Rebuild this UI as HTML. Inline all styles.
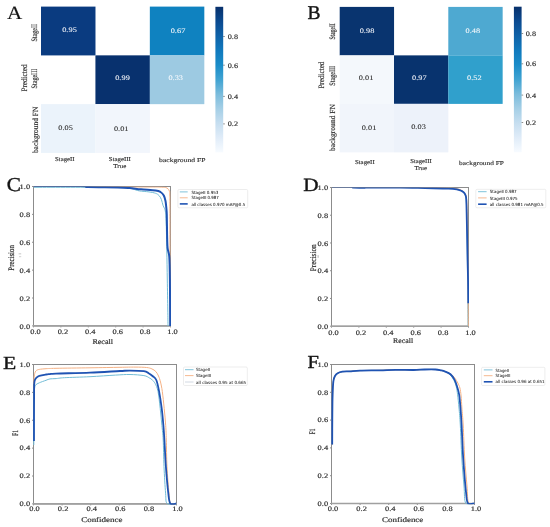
<!DOCTYPE html>
<html><head><meta charset="utf-8"><title>Figure</title>
<style>html,body{margin:0;padding:0;background:#fff;} svg{display:block;} text{text-rendering:geometricPrecision;}</style></head>
<body>
<svg width="550" height="527" viewBox="0 0 550 527">
<rect width="550" height="527" fill="#ffffff"/>
<rect x="41.00" y="6.60" width="54.48" height="48.81" fill="#0a3b80"/>
<rect x="149.84" y="6.60" width="54.48" height="48.81" fill="#0f82c0"/>
<rect x="95.42" y="55.35" width="54.48" height="48.81" fill="#08316e"/>
<rect x="149.84" y="55.35" width="54.48" height="48.81" fill="#9dcae2"/>
<rect x="41.00" y="104.10" width="54.48" height="48.81" fill="#ebf3fb"/>
<rect x="95.42" y="104.10" width="54.48" height="48.81" fill="#f2f6fc"/>
<text transform="matrix(0.08343 0.00000 0.00000 0.06970 62.20 32.20)" font-family='"Liberation Serif", serif' font-size="100" fill="#e8ecf4" stroke="#e8ecf4" stroke-width="1.57" stroke-linejoin="round">0.95</text>
<text transform="matrix(0.08343 0.00000 0.00000 0.06970 170.70 33.40)" font-family='"Liberation Serif", serif' font-size="100" fill="#eef4fa" stroke="#eef4fa" stroke-width="1.57" stroke-linejoin="round">0.67</text>
<text transform="matrix(0.08343 0.00000 0.00000 0.06970 115.20 80.10)" font-family='"Liberation Serif", serif' font-size="100" fill="#e8ecf4" stroke="#e8ecf4" stroke-width="1.57" stroke-linejoin="round">0.99</text>
<text transform="matrix(0.08343 0.00000 0.00000 0.06970 168.40 80.10)" font-family='"Liberation Serif", serif' font-size="100" fill="#f4f8fc" stroke="#f4f8fc" stroke-width="1.57" stroke-linejoin="round">0.33</text>
<text transform="matrix(0.08343 0.00000 0.00000 0.06970 58.30 130.10)" font-family='"Liberation Serif", serif' font-size="100" fill="#333333" stroke="#333333" stroke-width="1.57" stroke-linejoin="round">0.05</text>
<text transform="matrix(0.08343 0.00000 0.00000 0.06970 113.90 130.90)" font-family='"Liberation Serif", serif' font-size="100" fill="#333333" stroke="#333333" stroke-width="1.57" stroke-linejoin="round">0.01</text>
<text transform="matrix(0.21111 0.00000 0.00000 0.18788 6.90 19.20)" font-family='"Liberation Serif", serif' font-size="100" fill="#141414" stroke="#141414" stroke-width="0.75" stroke-linejoin="round">A</text>
<defs><linearGradient id="gA" x1="0" y1="0" x2="0" y2="1"><stop offset="0.000" stop-color="#08306b"/><stop offset="0.100" stop-color="#0b4a90"/><stop offset="0.200" stop-color="#0f62a8"/><stop offset="0.300" stop-color="#1079bd"/><stop offset="0.400" stop-color="#1a8cc8"/><stop offset="0.500" stop-color="#40a3d2"/><stop offset="0.600" stop-color="#7bbcdc"/><stop offset="0.700" stop-color="#a5cfe6"/><stop offset="0.800" stop-color="#c6def0"/><stop offset="0.900" stop-color="#e0ecf8"/><stop offset="1.000" stop-color="#f7fbff"/></linearGradient></defs>
<rect x="215.4" y="6.8" width="7.80" height="145.60" fill="url(#gA)"/>
<line x1="223.2" y1="36.5" x2="224.79999999999998" y2="36.5" stroke="#444" stroke-width="0.6"/>
<text transform="matrix(0.08240 0.00000 0.00000 0.06818 227.70 38.95)" font-family='"Liberation Serif", serif' font-size="100" fill="#2e2e2e" stroke="#2e2e2e" stroke-width="2.40" stroke-linejoin="round">0.8</text>
<line x1="223.2" y1="65.2" x2="224.79999999999998" y2="65.2" stroke="#444" stroke-width="0.6"/>
<text transform="matrix(0.08240 0.00000 0.00000 0.06818 227.70 67.65)" font-family='"Liberation Serif", serif' font-size="100" fill="#2e2e2e" stroke="#2e2e2e" stroke-width="2.40" stroke-linejoin="round">0.6</text>
<line x1="223.2" y1="96.4" x2="224.79999999999998" y2="96.4" stroke="#444" stroke-width="0.6"/>
<text transform="matrix(0.08240 0.00000 0.00000 0.06818 227.70 98.85)" font-family='"Liberation Serif", serif' font-size="100" fill="#2e2e2e" stroke="#2e2e2e" stroke-width="2.40" stroke-linejoin="round">0.4</text>
<line x1="223.2" y1="123.9" x2="224.79999999999998" y2="123.9" stroke="#444" stroke-width="0.6"/>
<text transform="matrix(0.08240 0.00000 0.00000 0.06818 227.70 126.35)" font-family='"Liberation Serif", serif' font-size="100" fill="#2e2e2e" stroke="#2e2e2e" stroke-width="2.40" stroke-linejoin="round">0.2</text>
<text transform="matrix(0.00000 -0.06090 0.08182 0.00000 37.20 41.60)" font-family='"Liberation Serif", serif' font-size="100" fill="#2e2e2e" stroke="#2e2e2e" stroke-width="2.12" stroke-linejoin="round">StageII</text>
<text transform="matrix(0.00000 -0.07143 0.08333 0.00000 26.80 91.50)" font-family='"Liberation Serif", serif' font-size="100" fill="#2e2e2e" stroke="#2e2e2e" stroke-width="1.94" stroke-linejoin="round">Predicted</text>
<text transform="matrix(0.00000 -0.06087 0.08182 0.00000 37.40 88.40)" font-family='"Liberation Serif", serif' font-size="100" fill="#2e2e2e" stroke="#2e2e2e" stroke-width="2.13" stroke-linejoin="round">StageIII</text>
<text transform="matrix(0.00000 -0.07424 0.07879 0.00000 37.50 153.10)" font-family='"Liberation Serif", serif' font-size="100" fill="#2e2e2e" stroke="#2e2e2e" stroke-width="1.96" stroke-linejoin="round">background FN</text>
<text transform="matrix(0.06782 0.00000 0.00000 0.05909 55.00 161.25)" font-family='"Liberation Serif", serif' font-size="100" fill="#2e2e2e" stroke="#2e2e2e" stroke-width="2.37" stroke-linejoin="round">StageII</text>
<text transform="matrix(0.06801 0.00000 0.00000 0.05909 108.85 160.75)" font-family='"Liberation Serif", serif' font-size="100" fill="#2e2e2e" stroke="#2e2e2e" stroke-width="2.37" stroke-linejoin="round">StageIII</text>
<text transform="matrix(0.06973 0.00000 0.00000 0.05909 113.35 167.85)" font-family='"Liberation Serif", serif' font-size="100" fill="#2e2e2e" stroke="#2e2e2e" stroke-width="2.34" stroke-linejoin="round">True</text>
<text transform="matrix(0.07632 0.00000 0.00000 0.05909 159.10 162.15)" font-family='"Liberation Serif", serif' font-size="100" fill="#2e2e2e" stroke="#2e2e2e" stroke-width="2.23" stroke-linejoin="round">background FP</text>
<rect x="339.70" y="6.90" width="54.36" height="48.53" fill="#09346f"/>
<rect x="448.30" y="6.90" width="54.36" height="48.53" fill="#4ea9d1"/>
<rect x="339.70" y="55.37" width="54.36" height="48.53" fill="#f4f8fc"/>
<rect x="394.00" y="55.37" width="54.36" height="48.53" fill="#08336e"/>
<rect x="448.30" y="55.37" width="54.36" height="48.53" fill="#30a0cc"/>
<rect x="339.70" y="103.84" width="54.36" height="48.53" fill="#f1f5fb"/>
<rect x="394.00" y="103.84" width="54.36" height="48.53" fill="#edf2fa"/>
<text transform="matrix(0.08343 0.00000 0.00000 0.06970 359.70 32.70)" font-family='"Liberation Serif", serif' font-size="100" fill="#e8ecf4" stroke="#e8ecf4" stroke-width="1.57" stroke-linejoin="round">0.98</text>
<text transform="matrix(0.08343 0.00000 0.00000 0.06970 465.50 33.00)" font-family='"Liberation Serif", serif' font-size="100" fill="#f0f6fa" stroke="#f0f6fa" stroke-width="1.57" stroke-linejoin="round">0.48</text>
<text transform="matrix(0.08343 0.00000 0.00000 0.06970 358.70 80.40)" font-family='"Liberation Serif", serif' font-size="100" fill="#333333" stroke="#333333" stroke-width="1.57" stroke-linejoin="round">0.01</text>
<text transform="matrix(0.08343 0.00000 0.00000 0.06970 412.00 80.40)" font-family='"Liberation Serif", serif' font-size="100" fill="#e8ecf4" stroke="#e8ecf4" stroke-width="1.57" stroke-linejoin="round">0.97</text>
<text transform="matrix(0.08343 0.00000 0.00000 0.06970 467.10 80.00)" font-family='"Liberation Serif", serif' font-size="100" fill="#f0f6fa" stroke="#f0f6fa" stroke-width="1.57" stroke-linejoin="round">0.52</text>
<text transform="matrix(0.08343 0.00000 0.00000 0.06970 361.70 129.50)" font-family='"Liberation Serif", serif' font-size="100" fill="#333333" stroke="#333333" stroke-width="1.57" stroke-linejoin="round">0.01</text>
<text transform="matrix(0.08343 0.00000 0.00000 0.06970 411.20 128.60)" font-family='"Liberation Serif", serif' font-size="100" fill="#333333" stroke="#333333" stroke-width="1.57" stroke-linejoin="round">0.03</text>
<text transform="matrix(0.19552 0.00000 0.00000 0.19394 307.50 19.30)" font-family='"Liberation Serif", serif' font-size="100" fill="#141414" stroke="#141414" stroke-width="2.05" stroke-linejoin="round">B</text>
<defs><linearGradient id="gB" x1="0" y1="0" x2="0" y2="1"><stop offset="0.000" stop-color="#08306b"/><stop offset="0.100" stop-color="#0b4a90"/><stop offset="0.200" stop-color="#0f62a8"/><stop offset="0.300" stop-color="#1079bd"/><stop offset="0.400" stop-color="#1a8cc8"/><stop offset="0.500" stop-color="#40a3d2"/><stop offset="0.600" stop-color="#7bbcdc"/><stop offset="0.700" stop-color="#a5cfe6"/><stop offset="0.800" stop-color="#c6def0"/><stop offset="0.900" stop-color="#e0ecf8"/><stop offset="1.000" stop-color="#f7fbff"/></linearGradient></defs>
<rect x="513.9" y="6.7" width="7.70" height="145.50" fill="url(#gB)"/>
<line x1="521.6" y1="33.5" x2="523.2" y2="33.5" stroke="#444" stroke-width="0.6"/>
<text transform="matrix(0.08240 0.00000 0.00000 0.06818 525.70 35.95)" font-family='"Liberation Serif", serif' font-size="100" fill="#2e2e2e" stroke="#2e2e2e" stroke-width="2.40" stroke-linejoin="round">0.8</text>
<line x1="521.6" y1="63.8" x2="523.2" y2="63.8" stroke="#444" stroke-width="0.6"/>
<text transform="matrix(0.08240 0.00000 0.00000 0.06818 525.70 66.25)" font-family='"Liberation Serif", serif' font-size="100" fill="#2e2e2e" stroke="#2e2e2e" stroke-width="2.40" stroke-linejoin="round">0.6</text>
<line x1="521.6" y1="95.1" x2="523.2" y2="95.1" stroke="#444" stroke-width="0.6"/>
<text transform="matrix(0.08240 0.00000 0.00000 0.06818 525.70 97.55)" font-family='"Liberation Serif", serif' font-size="100" fill="#2e2e2e" stroke="#2e2e2e" stroke-width="2.40" stroke-linejoin="round">0.4</text>
<line x1="521.6" y1="122.5" x2="523.2" y2="122.5" stroke="#444" stroke-width="0.6"/>
<text transform="matrix(0.08240 0.00000 0.00000 0.06818 525.70 124.95)" font-family='"Liberation Serif", serif' font-size="100" fill="#2e2e2e" stroke="#2e2e2e" stroke-width="2.40" stroke-linejoin="round">0.2</text>
<text transform="matrix(0.00000 -0.05606 0.08182 0.00000 334.80 39.50)" font-family='"Liberation Serif", serif' font-size="100" fill="#2e2e2e" stroke="#2e2e2e" stroke-width="2.21" stroke-linejoin="round">StageII</text>
<text transform="matrix(0.00000 -0.07143 0.08182 0.00000 323.70 88.60)" font-family='"Liberation Serif", serif' font-size="100" fill="#2e2e2e" stroke="#2e2e2e" stroke-width="1.96" stroke-linejoin="round">Predicted</text>
<text transform="matrix(0.00000 -0.06149 0.08182 0.00000 334.80 85.70)" font-family='"Liberation Serif", serif' font-size="100" fill="#2e2e2e" stroke="#2e2e2e" stroke-width="2.11" stroke-linejoin="round">StageIII</text>
<text transform="matrix(0.00000 -0.07520 0.07727 0.00000 334.60 151.10)" font-family='"Liberation Serif", serif' font-size="100" fill="#2e2e2e" stroke="#2e2e2e" stroke-width="1.97" stroke-linejoin="round">background FN</text>
<text transform="matrix(0.06851 0.00000 0.00000 0.05909 354.90 164.05)" font-family='"Liberation Serif", serif' font-size="100" fill="#2e2e2e" stroke="#2e2e2e" stroke-width="2.36" stroke-linejoin="round">StageII</text>
<text transform="matrix(0.06646 0.00000 0.00000 0.05909 410.30 162.75)" font-family='"Liberation Serif", serif' font-size="100" fill="#2e2e2e" stroke="#2e2e2e" stroke-width="2.39" stroke-linejoin="round">StageIII</text>
<text transform="matrix(0.06811 0.00000 0.00000 0.05909 414.40 169.55)" font-family='"Liberation Serif", serif' font-size="100" fill="#2e2e2e" stroke="#2e2e2e" stroke-width="2.36" stroke-linejoin="round">True</text>
<text transform="matrix(0.07368 0.00000 0.00000 0.05909 459.10 165.15)" font-family='"Liberation Serif", serif' font-size="100" fill="#2e2e2e" stroke="#2e2e2e" stroke-width="2.27" stroke-linejoin="round">background FP</text>
<defs><clipPath id="c1"><rect x="33.0" y="186.0" width="138.00" height="140.70"/></clipPath></defs>
<line x1="33.50" y1="325.9" x2="33.50" y2="327.4" stroke="#444" stroke-width="0.6"/>
<line x1="32.0" y1="325.90" x2="33.5" y2="325.90" stroke="#444" stroke-width="0.6"/>
<text transform="matrix(0.08400 0.00000 0.00000 0.06818 30.25 334.35)" font-family='"Liberation Serif", serif' font-size="100" fill="#2e2e2e" stroke="#2e2e2e" stroke-width="2.64" stroke-linejoin="round">0.0</text>
<text transform="matrix(0.08400 0.00000 0.00000 0.06818 19.60 328.65)" font-family='"Liberation Serif", serif' font-size="100" fill="#2e2e2e" stroke="#2e2e2e" stroke-width="2.64" stroke-linejoin="round">0.0</text>
<line x1="60.90" y1="325.9" x2="60.90" y2="327.4" stroke="#444" stroke-width="0.6"/>
<line x1="32.0" y1="298.02" x2="33.5" y2="298.02" stroke="#444" stroke-width="0.6"/>
<text transform="matrix(0.08400 0.00000 0.00000 0.06818 57.65 334.35)" font-family='"Liberation Serif", serif' font-size="100" fill="#2e2e2e" stroke="#2e2e2e" stroke-width="2.64" stroke-linejoin="round">0.2</text>
<text transform="matrix(0.08400 0.00000 0.00000 0.06818 19.60 300.77)" font-family='"Liberation Serif", serif' font-size="100" fill="#2e2e2e" stroke="#2e2e2e" stroke-width="2.64" stroke-linejoin="round">0.2</text>
<line x1="88.30" y1="325.9" x2="88.30" y2="327.4" stroke="#444" stroke-width="0.6"/>
<line x1="32.0" y1="270.14" x2="33.5" y2="270.14" stroke="#444" stroke-width="0.6"/>
<text transform="matrix(0.08400 0.00000 0.00000 0.06818 85.05 334.35)" font-family='"Liberation Serif", serif' font-size="100" fill="#2e2e2e" stroke="#2e2e2e" stroke-width="2.64" stroke-linejoin="round">0.4</text>
<text transform="matrix(0.08400 0.00000 0.00000 0.06818 19.60 272.89)" font-family='"Liberation Serif", serif' font-size="100" fill="#2e2e2e" stroke="#2e2e2e" stroke-width="2.64" stroke-linejoin="round">0.4</text>
<line x1="115.70" y1="325.9" x2="115.70" y2="327.4" stroke="#444" stroke-width="0.6"/>
<line x1="32.0" y1="242.26" x2="33.5" y2="242.26" stroke="#444" stroke-width="0.6"/>
<text transform="matrix(0.08400 0.00000 0.00000 0.06818 112.45 334.35)" font-family='"Liberation Serif", serif' font-size="100" fill="#2e2e2e" stroke="#2e2e2e" stroke-width="2.64" stroke-linejoin="round">0.6</text>
<text transform="matrix(0.08400 0.00000 0.00000 0.06818 19.60 245.01)" font-family='"Liberation Serif", serif' font-size="100" fill="#2e2e2e" stroke="#2e2e2e" stroke-width="2.64" stroke-linejoin="round">0.6</text>
<line x1="143.10" y1="325.9" x2="143.10" y2="327.4" stroke="#444" stroke-width="0.6"/>
<line x1="32.0" y1="214.38" x2="33.5" y2="214.38" stroke="#444" stroke-width="0.6"/>
<text transform="matrix(0.08400 0.00000 0.00000 0.06818 139.85 334.35)" font-family='"Liberation Serif", serif' font-size="100" fill="#2e2e2e" stroke="#2e2e2e" stroke-width="2.64" stroke-linejoin="round">0.8</text>
<text transform="matrix(0.08400 0.00000 0.00000 0.06818 19.60 217.13)" font-family='"Liberation Serif", serif' font-size="100" fill="#2e2e2e" stroke="#2e2e2e" stroke-width="2.64" stroke-linejoin="round">0.8</text>
<line x1="170.50" y1="325.9" x2="170.50" y2="327.4" stroke="#444" stroke-width="0.6"/>
<line x1="32.0" y1="186.50" x2="33.5" y2="186.50" stroke="#444" stroke-width="0.6"/>
<text transform="matrix(0.08400 0.00000 0.00000 0.06818 167.25 334.35)" font-family='"Liberation Serif", serif' font-size="100" fill="#2e2e2e" stroke="#2e2e2e" stroke-width="2.64" stroke-linejoin="round">1.0</text>
<text transform="matrix(0.08400 0.00000 0.00000 0.06818 19.60 189.25)" font-family='"Liberation Serif", serif' font-size="100" fill="#2e2e2e" stroke="#2e2e2e" stroke-width="2.64" stroke-linejoin="round">1.0</text>
<text transform="matrix(0.08078 0.00000 0.00000 0.07273 92.40 343.80)" font-family='"Liberation Serif", serif' font-size="100" fill="#2e2e2e" stroke="#2e2e2e" stroke-width="2.35" stroke-linejoin="round">Recall</text>
<text transform="matrix(0.00000 -0.06882 0.08485 0.00000 14.00 270.70)" font-family='"Liberation Serif", serif' font-size="100" fill="#2e2e2e" stroke="#2e2e2e" stroke-width="2.36" stroke-linejoin="round">Precision</text>
<text transform="matrix(0.21194 0.00000 0.00000 0.19697 6.80 190.70)" font-family='"Liberation Serif", serif' font-size="100" fill="#141414" stroke="#141414" stroke-width="1.96" stroke-linejoin="round">C</text>
<rect x="33.5" y="186.5" width="137.00" height="139.40" fill="none" stroke="#8c8c8c" stroke-width="1"/>
<line x1="33.0" y1="325.9" x2="171.0" y2="325.9" stroke="#a0a0a0" stroke-width="1.6"/>
<path d="M33.60 187.30 C44.67 187.30 85.27 187.27 100.00 187.30 C114.73 187.33 117.33 187.40 122.00 187.50 C126.67 187.60 126.17 187.63 128.00 187.90 C129.83 188.17 131.12 188.60 133.00 189.10 C134.88 189.60 136.63 190.43 139.30 190.90 C141.97 191.37 146.28 191.50 149.00 191.90 C151.72 192.30 153.93 192.70 155.60 193.30 C157.27 193.90 158.03 194.47 159.00 195.50 C159.97 196.53 160.73 197.87 161.40 199.50 C162.07 201.13 162.47 203.77 163.00 205.30 C163.53 206.83 164.18 207.48 164.60 208.70 C165.02 209.92 165.23 210.05 165.50 212.60 C165.77 215.15 165.98 217.77 166.20 224.00 C166.42 230.23 166.62 240.67 166.80 250.00 C166.98 259.33 167.13 270.00 167.30 280.00 C167.47 290.00 167.68 302.33 167.80 310.00 C167.92 317.67 167.97 323.33 168.00 326.00" fill="none" stroke="#72bcd6" stroke-width="1.0" stroke-linejoin="round" clip-path="url(#c1)"/>
<path d="M33.60 186.50 C41.33 186.50 66.93 186.48 80.00 186.50 C93.07 186.52 105.00 186.53 112.00 186.60 C119.00 186.67 115.67 186.83 122.00 186.90 C128.33 186.97 143.67 186.97 150.00 187.00 C156.33 187.03 157.42 187.02 160.00 187.10 C162.58 187.18 164.17 187.22 165.50 187.50 C166.83 187.78 167.37 188.22 168.00 188.80 C168.63 189.38 169.00 189.97 169.30 191.00 C169.60 192.03 169.70 188.50 169.80 195.00 C169.90 201.50 169.88 208.17 169.90 230.00 C169.92 251.83 169.90 310.00 169.90 326.00" fill="none" stroke="#f5b184" stroke-width="1.0" stroke-linejoin="round" clip-path="url(#c1)"/>
<path d="M33.60 186.00 C41.67 186.00 72.93 185.82 82.00 186.00 C91.07 186.18 82.00 186.87 88.00 187.10 C94.00 187.33 111.08 187.25 118.00 187.40 C124.92 187.55 125.67 187.68 129.50 188.00 C133.33 188.32 136.65 188.88 141.00 189.30 C145.35 189.72 152.35 190.05 155.60 190.50 C158.85 190.95 159.13 191.17 160.50 192.00 C161.87 192.83 162.97 194.00 163.80 195.50 C164.63 197.00 165.08 198.97 165.50 201.00 C165.92 203.03 166.08 205.37 166.30 207.70 C166.52 210.03 166.67 210.45 166.80 215.00 C166.93 219.55 166.97 229.50 167.10 235.00 C167.23 240.50 167.23 244.33 167.60 248.00 C167.97 251.67 168.92 251.67 169.30 257.00 C169.68 262.33 169.75 268.50 169.90 280.00 C170.05 291.50 170.15 318.33 170.20 326.00" fill="none" stroke="#1f53b3" stroke-width="2.0" stroke-linejoin="round" clip-path="url(#c1)"/>
<line x1="33.0" y1="186.5" x2="171.0" y2="186.5" stroke="#8c8c8c" stroke-width="1" stroke-opacity="0.5"/>
<rect x="18.6" y="253.2" width="2.6" height="1.2" fill="#cfcfcf"/><rect x="19.0" y="256.0" width="2.2" height="1.2" fill="#d8d8d8"/>
<rect x="177.9" y="189.5" width="69.80" height="18.30" rx="1.2" fill="#fff" stroke="#e0e0e0" stroke-width="0.6"/>
<line x1="179.8" y1="191.9" x2="187.7" y2="191.9" stroke="#72bcd6" stroke-width="0.9"/>
<text transform="matrix(0.04054 0.00000 0.00000 0.04247 191.40 193.55)" font-family='"DejaVu Sans", sans-serif' font-size="100" fill="#262626" stroke="#262626" stroke-width="1.45" stroke-linejoin="round">StageII 0.953</text>
<line x1="179.8" y1="197.8" x2="187.7" y2="197.8" stroke="#f5b184" stroke-width="0.9"/>
<text transform="matrix(0.03951 0.00000 0.00000 0.04247 191.40 199.45)" font-family='"DejaVu Sans", sans-serif' font-size="100" fill="#262626" stroke="#262626" stroke-width="1.46" stroke-linejoin="round">StageIII 0.987</text>
<line x1="179.8" y1="203.9" x2="187.7" y2="203.9" stroke="#1f53b3" stroke-width="1.6"/>
<text transform="matrix(0.04000 0.00000 0.00000 0.04247 191.40 205.55)" font-family='"DejaVu Sans", sans-serif' font-size="100" fill="#262626" stroke="#262626" stroke-width="1.46" stroke-linejoin="round">all classes 0.970 mAP@0.5</text>
<defs><clipPath id="c2"><rect x="331.0" y="187.0" width="138.00" height="140.00"/></clipPath></defs>
<line x1="331.50" y1="326.2" x2="331.50" y2="327.7" stroke="#444" stroke-width="0.6"/>
<line x1="330.0" y1="326.20" x2="331.5" y2="326.20" stroke="#444" stroke-width="0.6"/>
<text transform="matrix(0.08400 0.00000 0.00000 0.06818 328.25 334.65)" font-family='"Liberation Serif", serif' font-size="100" fill="#2e2e2e" stroke="#2e2e2e" stroke-width="2.64" stroke-linejoin="round">0.0</text>
<text transform="matrix(0.08400 0.00000 0.00000 0.06818 317.60 328.95)" font-family='"Liberation Serif", serif' font-size="100" fill="#2e2e2e" stroke="#2e2e2e" stroke-width="2.64" stroke-linejoin="round">0.0</text>
<line x1="358.90" y1="326.2" x2="358.90" y2="327.7" stroke="#444" stroke-width="0.6"/>
<line x1="330.0" y1="298.46" x2="331.5" y2="298.46" stroke="#444" stroke-width="0.6"/>
<text transform="matrix(0.08400 0.00000 0.00000 0.06818 355.65 334.65)" font-family='"Liberation Serif", serif' font-size="100" fill="#2e2e2e" stroke="#2e2e2e" stroke-width="2.64" stroke-linejoin="round">0.2</text>
<text transform="matrix(0.08400 0.00000 0.00000 0.06818 317.60 301.21)" font-family='"Liberation Serif", serif' font-size="100" fill="#2e2e2e" stroke="#2e2e2e" stroke-width="2.64" stroke-linejoin="round">0.2</text>
<line x1="386.30" y1="326.2" x2="386.30" y2="327.7" stroke="#444" stroke-width="0.6"/>
<line x1="330.0" y1="270.72" x2="331.5" y2="270.72" stroke="#444" stroke-width="0.6"/>
<text transform="matrix(0.08400 0.00000 0.00000 0.06818 383.05 334.65)" font-family='"Liberation Serif", serif' font-size="100" fill="#2e2e2e" stroke="#2e2e2e" stroke-width="2.64" stroke-linejoin="round">0.4</text>
<text transform="matrix(0.08400 0.00000 0.00000 0.06818 317.60 273.47)" font-family='"Liberation Serif", serif' font-size="100" fill="#2e2e2e" stroke="#2e2e2e" stroke-width="2.64" stroke-linejoin="round">0.4</text>
<line x1="413.70" y1="326.2" x2="413.70" y2="327.7" stroke="#444" stroke-width="0.6"/>
<line x1="330.0" y1="242.98" x2="331.5" y2="242.98" stroke="#444" stroke-width="0.6"/>
<text transform="matrix(0.08400 0.00000 0.00000 0.06818 410.45 334.65)" font-family='"Liberation Serif", serif' font-size="100" fill="#2e2e2e" stroke="#2e2e2e" stroke-width="2.64" stroke-linejoin="round">0.6</text>
<text transform="matrix(0.08400 0.00000 0.00000 0.06818 317.60 245.73)" font-family='"Liberation Serif", serif' font-size="100" fill="#2e2e2e" stroke="#2e2e2e" stroke-width="2.64" stroke-linejoin="round">0.6</text>
<line x1="441.10" y1="326.2" x2="441.10" y2="327.7" stroke="#444" stroke-width="0.6"/>
<line x1="330.0" y1="215.24" x2="331.5" y2="215.24" stroke="#444" stroke-width="0.6"/>
<text transform="matrix(0.08400 0.00000 0.00000 0.06818 437.85 334.65)" font-family='"Liberation Serif", serif' font-size="100" fill="#2e2e2e" stroke="#2e2e2e" stroke-width="2.64" stroke-linejoin="round">0.8</text>
<text transform="matrix(0.08400 0.00000 0.00000 0.06818 317.60 217.99)" font-family='"Liberation Serif", serif' font-size="100" fill="#2e2e2e" stroke="#2e2e2e" stroke-width="2.64" stroke-linejoin="round">0.8</text>
<line x1="468.50" y1="326.2" x2="468.50" y2="327.7" stroke="#444" stroke-width="0.6"/>
<line x1="330.0" y1="187.50" x2="331.5" y2="187.50" stroke="#444" stroke-width="0.6"/>
<text transform="matrix(0.08400 0.00000 0.00000 0.06818 465.25 334.65)" font-family='"Liberation Serif", serif' font-size="100" fill="#2e2e2e" stroke="#2e2e2e" stroke-width="2.64" stroke-linejoin="round">1.0</text>
<text transform="matrix(0.08400 0.00000 0.00000 0.06818 317.60 190.25)" font-family='"Liberation Serif", serif' font-size="100" fill="#2e2e2e" stroke="#2e2e2e" stroke-width="2.64" stroke-linejoin="round">1.0</text>
<text transform="matrix(0.07843 0.00000 0.00000 0.07273 393.10 342.70)" font-family='"Liberation Serif", serif' font-size="100" fill="#2e2e2e" stroke="#2e2e2e" stroke-width="2.38" stroke-linejoin="round">Recall</text>
<text transform="matrix(0.00000 -0.07258 0.08485 0.00000 315.80 271.30)" font-family='"Liberation Serif", serif' font-size="100" fill="#2e2e2e" stroke="#2e2e2e" stroke-width="2.29" stroke-linejoin="round">Precision</text>
<text transform="matrix(0.21250 0.00000 0.00000 0.18636 303.20 190.75)" font-family='"Liberation Serif", serif' font-size="100" fill="#141414" stroke="#141414" stroke-width="2.01" stroke-linejoin="round">D</text>
<rect x="331.5" y="187.5" width="137.00" height="138.70" fill="none" stroke="#8c8c8c" stroke-width="1"/>
<line x1="331.0" y1="326.2" x2="469.0" y2="326.2" stroke="#a0a0a0" stroke-width="1.6"/>
<path d="M332.00 187.20 C343.33 187.23 382.00 187.32 400.00 187.40 C418.00 187.48 430.83 187.50 440.00 187.70 C449.17 187.90 451.50 188.18 455.00 188.60 C458.50 189.02 459.45 189.42 461.00 190.20 C462.55 190.98 463.47 192.00 464.30 193.30 C465.13 194.60 465.58 194.38 466.00 198.00 C466.42 201.62 466.57 204.67 466.80 215.00 C467.03 225.33 467.20 241.50 467.40 260.00 C467.60 278.50 467.90 315.00 468.00 326.00" fill="none" stroke="#72bcd6" stroke-width="1.0" stroke-linejoin="round" clip-path="url(#c2)"/>
<path d="M332.00 187.20 C343.33 187.22 382.00 187.23 400.00 187.30 C418.00 187.37 430.83 187.40 440.00 187.60 C449.17 187.80 451.50 188.10 455.00 188.50 C458.50 188.90 459.42 189.25 461.00 190.00 C462.58 190.75 463.60 191.67 464.50 193.00 C465.40 194.33 465.95 194.33 466.40 198.00 C466.85 201.67 466.97 204.67 467.20 215.00 C467.43 225.33 467.62 241.50 467.80 260.00 C467.98 278.50 468.22 315.00 468.30 326.00" fill="none" stroke="#f5b184" stroke-width="1.0" stroke-linejoin="round" clip-path="url(#c2)"/>
<path d="M332.00 186.90 C335.17 186.90 347.42 186.77 351.00 186.90 C354.58 187.03 351.33 187.55 353.50 187.70 C355.67 187.85 361.58 187.83 364.00 187.80 C366.42 187.77 362.00 187.53 368.00 187.50 C374.00 187.47 390.50 187.50 400.00 187.60 C409.50 187.70 416.92 187.93 425.00 188.10 C433.08 188.27 443.07 188.35 448.50 188.60 C453.93 188.85 455.43 189.22 457.60 189.60 C459.77 189.98 460.43 190.38 461.50 190.90 C462.57 191.42 463.32 191.93 464.00 192.70 C464.68 193.47 465.22 194.28 465.60 195.50 C465.98 196.72 466.10 195.92 466.30 200.00 C466.50 204.08 466.58 210.00 466.80 220.00 C467.02 230.00 467.38 249.50 467.60 260.00 C467.82 270.50 467.98 275.78 468.10 283.00 C468.22 290.22 468.27 299.92 468.30 303.30" fill="none" stroke="#1f53b3" stroke-width="1.8" stroke-linejoin="round" clip-path="url(#c2)"/>
<line x1="331.0" y1="187.5" x2="469.0" y2="187.5" stroke="#8c8c8c" stroke-width="1" stroke-opacity="0.5"/>
<rect x="317.4" y="255.2" width="1.6" height="2.6" fill="#d0d0d0"/>
<rect x="475.8" y="189.3" width="70.00" height="18.50" rx="1.2" fill="#fff" stroke="#e0e0e0" stroke-width="0.6"/>
<line x1="478.1" y1="191.7" x2="486.6" y2="191.7" stroke="#72bcd6" stroke-width="0.9"/>
<text transform="matrix(0.04024 0.00000 0.00000 0.04247 489.80 193.35)" font-family='"DejaVu Sans", sans-serif' font-size="100" fill="#262626" stroke="#262626" stroke-width="1.45" stroke-linejoin="round">StageII 0.987</text>
<line x1="478.1" y1="197.9" x2="486.6" y2="197.9" stroke="#f5b184" stroke-width="0.9"/>
<text transform="matrix(0.03994 0.00000 0.00000 0.04247 489.80 199.55)" font-family='"DejaVu Sans", sans-serif' font-size="100" fill="#262626" stroke="#262626" stroke-width="1.46" stroke-linejoin="round">StageIII 0.975</text>
<line x1="478.1" y1="204.2" x2="486.6" y2="204.2" stroke="#1f53b3" stroke-width="1.6"/>
<text transform="matrix(0.04000 0.00000 0.00000 0.04247 489.80 205.85)" font-family='"DejaVu Sans", sans-serif' font-size="100" fill="#262626" stroke="#262626" stroke-width="1.46" stroke-linejoin="round">all classes 0.981 mAP@0.5</text>
<defs><clipPath id="c3"><rect x="33.0" y="364.0" width="144.00" height="140.70"/></clipPath></defs>
<line x1="33.50" y1="503.9" x2="33.50" y2="505.4" stroke="#444" stroke-width="0.6"/>
<line x1="32.0" y1="503.90" x2="33.5" y2="503.90" stroke="#444" stroke-width="0.6"/>
<text transform="matrix(0.08400 0.00000 0.00000 0.06818 29.25 511.45)" font-family='"Liberation Serif", serif' font-size="100" fill="#2e2e2e" stroke="#2e2e2e" stroke-width="2.64" stroke-linejoin="round">0.0</text>
<text transform="matrix(0.08400 0.00000 0.00000 0.06818 19.60 506.25)" font-family='"Liberation Serif", serif' font-size="100" fill="#2e2e2e" stroke="#2e2e2e" stroke-width="2.64" stroke-linejoin="round">0.0</text>
<line x1="62.10" y1="503.9" x2="62.10" y2="505.4" stroke="#444" stroke-width="0.6"/>
<line x1="32.0" y1="476.02" x2="33.5" y2="476.02" stroke="#444" stroke-width="0.6"/>
<text transform="matrix(0.08400 0.00000 0.00000 0.06818 57.85 511.45)" font-family='"Liberation Serif", serif' font-size="100" fill="#2e2e2e" stroke="#2e2e2e" stroke-width="2.64" stroke-linejoin="round">0.2</text>
<text transform="matrix(0.08400 0.00000 0.00000 0.06818 19.60 478.37)" font-family='"Liberation Serif", serif' font-size="100" fill="#2e2e2e" stroke="#2e2e2e" stroke-width="2.64" stroke-linejoin="round">0.2</text>
<line x1="90.70" y1="503.9" x2="90.70" y2="505.4" stroke="#444" stroke-width="0.6"/>
<line x1="32.0" y1="448.14" x2="33.5" y2="448.14" stroke="#444" stroke-width="0.6"/>
<text transform="matrix(0.08400 0.00000 0.00000 0.06818 86.45 511.45)" font-family='"Liberation Serif", serif' font-size="100" fill="#2e2e2e" stroke="#2e2e2e" stroke-width="2.64" stroke-linejoin="round">0.4</text>
<text transform="matrix(0.08400 0.00000 0.00000 0.06818 19.60 450.49)" font-family='"Liberation Serif", serif' font-size="100" fill="#2e2e2e" stroke="#2e2e2e" stroke-width="2.64" stroke-linejoin="round">0.4</text>
<line x1="119.30" y1="503.9" x2="119.30" y2="505.4" stroke="#444" stroke-width="0.6"/>
<line x1="32.0" y1="420.26" x2="33.5" y2="420.26" stroke="#444" stroke-width="0.6"/>
<text transform="matrix(0.08400 0.00000 0.00000 0.06818 115.05 511.45)" font-family='"Liberation Serif", serif' font-size="100" fill="#2e2e2e" stroke="#2e2e2e" stroke-width="2.64" stroke-linejoin="round">0.6</text>
<text transform="matrix(0.08400 0.00000 0.00000 0.06818 19.60 422.61)" font-family='"Liberation Serif", serif' font-size="100" fill="#2e2e2e" stroke="#2e2e2e" stroke-width="2.64" stroke-linejoin="round">0.6</text>
<line x1="147.90" y1="503.9" x2="147.90" y2="505.4" stroke="#444" stroke-width="0.6"/>
<line x1="32.0" y1="392.38" x2="33.5" y2="392.38" stroke="#444" stroke-width="0.6"/>
<text transform="matrix(0.08400 0.00000 0.00000 0.06818 143.65 511.45)" font-family='"Liberation Serif", serif' font-size="100" fill="#2e2e2e" stroke="#2e2e2e" stroke-width="2.64" stroke-linejoin="round">0.8</text>
<text transform="matrix(0.08400 0.00000 0.00000 0.06818 19.60 394.73)" font-family='"Liberation Serif", serif' font-size="100" fill="#2e2e2e" stroke="#2e2e2e" stroke-width="2.64" stroke-linejoin="round">0.8</text>
<line x1="176.50" y1="503.9" x2="176.50" y2="505.4" stroke="#444" stroke-width="0.6"/>
<line x1="32.0" y1="364.50" x2="33.5" y2="364.50" stroke="#444" stroke-width="0.6"/>
<text transform="matrix(0.08400 0.00000 0.00000 0.06818 172.25 511.45)" font-family='"Liberation Serif", serif' font-size="100" fill="#2e2e2e" stroke="#2e2e2e" stroke-width="2.64" stroke-linejoin="round">1.0</text>
<text transform="matrix(0.08400 0.00000 0.00000 0.06818 19.60 366.85)" font-family='"Liberation Serif", serif' font-size="100" fill="#2e2e2e" stroke="#2e2e2e" stroke-width="2.64" stroke-linejoin="round">1.0</text>
<text transform="matrix(0.08937 0.00000 0.00000 0.07121 81.20 521.65)" font-family='"Liberation Serif", serif' font-size="100" fill="#2e2e2e" stroke="#2e2e2e" stroke-width="2.26" stroke-linejoin="round">Confidence</text>
<text transform="matrix(0.00000 -0.05283 0.08485 0.00000 18.00 435.80)" font-family='"Liberation Serif", serif' font-size="100" fill="#2e2e2e" stroke="#2e2e2e" stroke-width="2.69" stroke-linejoin="round">F1</text>
<text transform="matrix(0.21639 0.00000 0.00000 0.18485 3.10 368.60)" font-family='"Liberation Serif", serif' font-size="100" fill="#141414" stroke="#141414" stroke-width="2.00" stroke-linejoin="round">E</text>
<rect x="33.5" y="364.5" width="143.00" height="139.40" fill="none" stroke="#8c8c8c" stroke-width="1"/>
<line x1="33.0" y1="503.9" x2="177.0" y2="503.9" stroke="#a0a0a0" stroke-width="1.6"/>
<path d="M33.80 445.00 C33.82 440.83 33.85 428.33 33.90 420.00 C33.95 411.67 33.98 400.33 34.10 395.00 C34.22 389.67 34.35 389.67 34.60 388.00 C34.85 386.33 34.82 385.87 35.60 385.00 C36.38 384.13 37.57 383.58 39.30 382.80 C41.03 382.02 44.22 380.95 46.00 380.30 C47.78 379.65 48.33 379.18 50.00 378.90 C51.67 378.62 53.58 378.80 56.00 378.60 C58.42 378.40 58.83 378.02 64.50 377.70 C70.17 377.38 81.50 377.13 90.00 376.70 C98.50 376.27 108.83 375.47 115.50 375.10 C122.17 374.73 125.27 374.42 130.00 374.50 C134.73 374.58 140.70 375.05 143.90 375.60 C147.10 376.15 147.80 377.07 149.20 377.80 C150.60 378.53 151.32 379.07 152.30 380.00 C153.28 380.93 154.15 381.50 155.10 383.40 C156.05 385.30 157.15 387.23 158.00 391.40 C158.85 395.57 159.55 402.72 160.20 408.40 C160.85 414.08 161.40 420.23 161.90 425.50 C162.40 430.77 162.85 433.15 163.20 440.00 C163.55 446.85 163.60 457.73 164.00 466.60 C164.40 475.47 165.07 487.03 165.60 493.20 C166.13 499.37 165.42 501.87 167.20 503.60 C168.98 505.33 174.78 503.60 176.30 503.60" fill="none" stroke="#72bcd6" stroke-width="1.0" stroke-linejoin="round" clip-path="url(#c3)"/>
<path d="M33.80 384.00 C33.88 382.67 34.07 377.97 34.30 376.00 C34.53 374.03 34.83 373.13 35.20 372.20 C35.57 371.27 35.82 370.87 36.50 370.40 C37.18 369.93 37.72 369.68 39.30 369.40 C40.88 369.12 43.22 368.88 46.00 368.70 C48.78 368.52 48.67 368.45 56.00 368.30 C63.33 368.15 79.33 367.97 90.00 367.80 C100.67 367.63 112.50 367.42 120.00 367.30 C127.50 367.18 130.57 367.07 135.00 367.10 C139.43 367.13 143.78 367.20 146.60 367.50 C149.42 367.80 150.35 368.22 151.90 368.90 C153.45 369.58 154.80 370.42 155.90 371.60 C157.00 372.78 157.73 374.27 158.50 376.00 C159.27 377.73 159.87 379.43 160.50 382.00 C161.13 384.57 161.68 387.00 162.30 391.40 C162.92 395.80 163.63 402.72 164.20 408.40 C164.77 414.08 165.35 420.23 165.70 425.50 C166.05 430.77 166.08 433.15 166.30 440.00 C166.52 446.85 166.55 457.73 167.00 466.60 C167.45 475.47 168.38 487.03 169.00 493.20 C169.62 499.37 169.48 501.87 170.70 503.60 C171.92 505.33 175.37 503.60 176.30 503.60" fill="none" stroke="#f5b184" stroke-width="1.0" stroke-linejoin="round" clip-path="url(#c3)"/>
<path d="M34.00 441.00 C34.00 437.50 33.98 427.67 34.00 420.00 C34.02 412.33 34.05 401.17 34.10 395.00 C34.15 388.83 34.12 385.60 34.30 383.00 C34.48 380.40 34.83 380.30 35.20 379.40 C35.57 378.50 35.82 378.20 36.50 377.60 C37.18 377.00 37.72 376.32 39.30 375.80 C40.88 375.28 44.22 374.78 46.00 374.50 C47.78 374.22 48.33 374.25 50.00 374.10 C51.67 373.95 49.33 373.85 56.00 373.60 C62.67 373.35 79.33 373.03 90.00 372.60 C100.67 372.17 113.33 371.33 120.00 371.00 C126.67 370.67 126.02 370.57 130.00 370.60 C133.98 370.63 140.80 370.77 143.90 371.20 C147.00 371.63 147.17 372.40 148.60 373.20 C150.03 374.00 151.22 374.87 152.50 376.00 C153.78 377.13 155.20 377.43 156.30 380.00 C157.40 382.57 158.20 386.67 159.10 391.40 C160.00 396.13 160.98 402.72 161.70 408.40 C162.42 414.08 162.95 420.23 163.40 425.50 C163.85 430.77 163.98 433.15 164.40 440.00 C164.82 446.85 165.25 457.73 165.90 466.60 C166.55 475.47 167.57 487.05 168.30 493.20 C169.03 499.35 168.97 501.78 170.30 503.50 C171.63 505.22 175.30 503.50 176.30 503.50" fill="none" stroke="#1f53b3" stroke-width="1.8" stroke-linejoin="round" clip-path="url(#c3)"/>
<line x1="33.0" y1="364.5" x2="177.0" y2="364.5" stroke="#8c8c8c" stroke-width="1" stroke-opacity="0.5"/>
<rect x="183.5" y="367.0" width="63.80" height="18.50" rx="1.2" fill="#fff" stroke="#e0e0e0" stroke-width="0.6"/>
<line x1="185.0" y1="369.7" x2="193.5" y2="369.7" stroke="#72bcd6" stroke-width="0.9"/>
<text transform="matrix(0.04023 0.00000 0.00000 0.04247 196.00 371.35)" font-family='"DejaVu Sans", sans-serif' font-size="100" fill="#262626" stroke="#262626" stroke-width="1.45" stroke-linejoin="round">StageII</text>
<line x1="185.0" y1="375.6" x2="193.5" y2="375.6" stroke="#f5b184" stroke-width="0.9"/>
<text transform="matrix(0.03979 0.00000 0.00000 0.04247 196.00 377.25)" font-family='"DejaVu Sans", sans-serif' font-size="100" fill="#262626" stroke="#262626" stroke-width="1.46" stroke-linejoin="round">StageIII</text>
<line x1="185.0" y1="382.0" x2="193.5" y2="382.0" stroke="#cdd5e0" stroke-width="0.9"/>
<text transform="matrix(0.04132 0.00000 0.00000 0.04247 196.00 383.65)" font-family='"DejaVu Sans", sans-serif' font-size="100" fill="#262626" stroke="#262626" stroke-width="1.43" stroke-linejoin="round">all classes 0.95 at 0.665</text>
<defs><clipPath id="c4"><rect x="331.0" y="364.0" width="144.00" height="140.30"/></clipPath></defs>
<line x1="331.50" y1="503.5" x2="331.50" y2="505.0" stroke="#444" stroke-width="0.6"/>
<line x1="330.0" y1="503.50" x2="331.5" y2="503.50" stroke="#444" stroke-width="0.6"/>
<text transform="matrix(0.08400 0.00000 0.00000 0.06818 327.75 511.25)" font-family='"Liberation Serif", serif' font-size="100" fill="#2e2e2e" stroke="#2e2e2e" stroke-width="2.64" stroke-linejoin="round">0.0</text>
<text transform="matrix(0.08400 0.00000 0.00000 0.06818 317.60 505.85)" font-family='"Liberation Serif", serif' font-size="100" fill="#2e2e2e" stroke="#2e2e2e" stroke-width="2.64" stroke-linejoin="round">0.0</text>
<line x1="360.10" y1="503.5" x2="360.10" y2="505.0" stroke="#444" stroke-width="0.6"/>
<line x1="330.0" y1="475.70" x2="331.5" y2="475.70" stroke="#444" stroke-width="0.6"/>
<text transform="matrix(0.08400 0.00000 0.00000 0.06818 356.35 511.25)" font-family='"Liberation Serif", serif' font-size="100" fill="#2e2e2e" stroke="#2e2e2e" stroke-width="2.64" stroke-linejoin="round">0.2</text>
<text transform="matrix(0.08400 0.00000 0.00000 0.06818 317.60 478.05)" font-family='"Liberation Serif", serif' font-size="100" fill="#2e2e2e" stroke="#2e2e2e" stroke-width="2.64" stroke-linejoin="round">0.2</text>
<line x1="388.70" y1="503.5" x2="388.70" y2="505.0" stroke="#444" stroke-width="0.6"/>
<line x1="330.0" y1="447.90" x2="331.5" y2="447.90" stroke="#444" stroke-width="0.6"/>
<text transform="matrix(0.08400 0.00000 0.00000 0.06818 384.95 511.25)" font-family='"Liberation Serif", serif' font-size="100" fill="#2e2e2e" stroke="#2e2e2e" stroke-width="2.64" stroke-linejoin="round">0.4</text>
<text transform="matrix(0.08400 0.00000 0.00000 0.06818 317.60 450.25)" font-family='"Liberation Serif", serif' font-size="100" fill="#2e2e2e" stroke="#2e2e2e" stroke-width="2.64" stroke-linejoin="round">0.4</text>
<line x1="417.30" y1="503.5" x2="417.30" y2="505.0" stroke="#444" stroke-width="0.6"/>
<line x1="330.0" y1="420.10" x2="331.5" y2="420.10" stroke="#444" stroke-width="0.6"/>
<text transform="matrix(0.08400 0.00000 0.00000 0.06818 413.55 511.25)" font-family='"Liberation Serif", serif' font-size="100" fill="#2e2e2e" stroke="#2e2e2e" stroke-width="2.64" stroke-linejoin="round">0.6</text>
<text transform="matrix(0.08400 0.00000 0.00000 0.06818 317.60 422.45)" font-family='"Liberation Serif", serif' font-size="100" fill="#2e2e2e" stroke="#2e2e2e" stroke-width="2.64" stroke-linejoin="round">0.6</text>
<line x1="445.90" y1="503.5" x2="445.90" y2="505.0" stroke="#444" stroke-width="0.6"/>
<line x1="330.0" y1="392.30" x2="331.5" y2="392.30" stroke="#444" stroke-width="0.6"/>
<text transform="matrix(0.08400 0.00000 0.00000 0.06818 442.15 511.25)" font-family='"Liberation Serif", serif' font-size="100" fill="#2e2e2e" stroke="#2e2e2e" stroke-width="2.64" stroke-linejoin="round">0.8</text>
<text transform="matrix(0.08400 0.00000 0.00000 0.06818 317.60 394.65)" font-family='"Liberation Serif", serif' font-size="100" fill="#2e2e2e" stroke="#2e2e2e" stroke-width="2.64" stroke-linejoin="round">0.8</text>
<line x1="474.50" y1="503.5" x2="474.50" y2="505.0" stroke="#444" stroke-width="0.6"/>
<line x1="330.0" y1="364.50" x2="331.5" y2="364.50" stroke="#444" stroke-width="0.6"/>
<text transform="matrix(0.08400 0.00000 0.00000 0.06818 470.75 511.25)" font-family='"Liberation Serif", serif' font-size="100" fill="#2e2e2e" stroke="#2e2e2e" stroke-width="2.64" stroke-linejoin="round">1.0</text>
<text transform="matrix(0.08400 0.00000 0.00000 0.06818 317.60 366.85)" font-family='"Liberation Serif", serif' font-size="100" fill="#2e2e2e" stroke="#2e2e2e" stroke-width="2.64" stroke-linejoin="round">1.0</text>
<text transform="matrix(0.08937 0.00000 0.00000 0.07121 382.10 522.25)" font-family='"Liberation Serif", serif' font-size="100" fill="#2e2e2e" stroke="#2e2e2e" stroke-width="2.26" stroke-linejoin="round">Confidence</text>
<text transform="matrix(0.00000 -0.05283 0.08485 0.00000 315.00 434.30)" font-family='"Liberation Serif", serif' font-size="100" fill="#2e2e2e" stroke="#2e2e2e" stroke-width="2.69" stroke-linejoin="round">F1</text>
<text transform="matrix(0.20536 0.00000 0.00000 0.18333 307.50 368.45)" font-family='"Liberation Serif", serif' font-size="100" fill="#141414" stroke="#141414" stroke-width="2.06" stroke-linejoin="round">F</text>
<rect x="331.5" y="364.5" width="143.00" height="139.00" fill="none" stroke="#8c8c8c" stroke-width="1"/>
<line x1="331.0" y1="503.5" x2="475.0" y2="503.5" stroke="#a0a0a0" stroke-width="1.6"/>
<path d="M332.20 444.60 C332.22 440.50 332.23 428.27 332.30 420.00 C332.37 411.73 332.42 401.47 332.60 395.00 C332.78 388.53 333.00 384.37 333.40 381.20 C333.80 378.03 334.28 377.33 335.00 376.00 C335.72 374.67 336.48 373.92 337.70 373.20 C338.92 372.48 340.28 372.02 342.30 371.70 C344.32 371.38 346.85 371.48 349.80 371.30 C352.75 371.12 354.97 370.77 360.00 370.60 C365.03 370.43 374.08 370.43 380.00 370.30 C385.92 370.17 389.90 369.85 395.50 369.80 C401.10 369.75 408.77 370.05 413.60 370.00 C418.43 369.95 420.85 369.58 424.50 369.50 C428.15 369.42 432.77 369.35 435.50 369.50 C438.23 369.65 439.28 370.05 440.90 370.40 C442.52 370.75 443.68 370.90 445.20 371.60 C446.72 372.30 448.53 373.12 450.00 374.60 C451.47 376.08 452.95 378.45 454.00 380.50 C455.05 382.55 455.70 384.52 456.30 386.90 C456.90 389.28 457.15 391.28 457.60 394.80 C458.05 398.32 458.55 402.97 459.00 408.00 C459.45 413.03 459.83 416.67 460.30 425.00 C460.77 433.33 461.18 447.83 461.80 458.00 C462.42 468.17 463.33 478.45 464.00 486.00 C464.67 493.55 464.05 500.42 465.80 503.30 C467.55 506.18 473.05 503.30 474.50 503.30" fill="none" stroke="#72bcd6" stroke-width="1.0" stroke-linejoin="round" clip-path="url(#c4)"/>
<path d="M332.20 444.60 C332.22 440.50 332.23 428.27 332.30 420.00 C332.37 411.73 332.42 401.47 332.60 395.00 C332.78 388.53 333.00 384.37 333.40 381.20 C333.80 378.03 334.28 377.33 335.00 376.00 C335.72 374.67 336.48 373.92 337.70 373.20 C338.92 372.48 340.28 372.02 342.30 371.70 C344.32 371.38 346.85 371.48 349.80 371.30 C352.75 371.12 354.97 370.77 360.00 370.60 C365.03 370.43 374.08 370.43 380.00 370.30 C385.92 370.17 389.90 369.85 395.50 369.80 C401.10 369.75 408.77 370.05 413.60 370.00 C418.43 369.95 420.85 369.58 424.50 369.50 C428.15 369.42 432.77 369.35 435.50 369.50 C438.23 369.65 439.28 370.05 440.90 370.40 C442.52 370.75 443.60 371.00 445.20 371.60 C446.80 372.20 448.90 372.93 450.50 374.00 C452.10 375.07 453.58 376.50 454.80 378.00 C456.02 379.50 456.95 381.33 457.80 383.00 C458.65 384.67 459.35 385.83 459.90 388.00 C460.45 390.17 460.77 392.67 461.10 396.00 C461.43 399.33 461.55 403.17 461.90 408.00 C462.25 412.83 462.73 416.67 463.20 425.00 C463.67 433.33 464.07 447.83 464.70 458.00 C465.33 468.17 466.35 478.45 467.00 486.00 C467.65 493.55 467.35 500.42 468.60 503.30 C469.85 506.18 473.52 503.30 474.50 503.30" fill="none" stroke="#f5b184" stroke-width="1.0" stroke-linejoin="round" clip-path="url(#c4)"/>
<path d="M332.20 444.60 C332.22 440.50 332.23 428.27 332.30 420.00 C332.37 411.73 332.42 401.47 332.60 395.00 C332.78 388.53 333.00 384.37 333.40 381.20 C333.80 378.03 334.28 377.33 335.00 376.00 C335.72 374.67 336.48 373.92 337.70 373.20 C338.92 372.48 340.28 372.02 342.30 371.70 C344.32 371.38 346.85 371.48 349.80 371.30 C352.75 371.12 354.97 370.77 360.00 370.60 C365.03 370.43 374.08 370.43 380.00 370.30 C385.92 370.17 389.90 369.85 395.50 369.80 C401.10 369.75 408.77 370.05 413.60 370.00 C418.43 369.95 420.85 369.58 424.50 369.50 C428.15 369.42 432.77 369.35 435.50 369.50 C438.23 369.65 439.28 370.05 440.90 370.40 C442.52 370.75 443.60 370.95 445.20 371.60 C446.80 372.25 448.95 372.97 450.50 374.30 C452.05 375.63 453.38 377.50 454.50 379.60 C455.62 381.70 456.42 384.37 457.20 386.90 C457.98 389.43 458.65 391.28 459.20 394.80 C459.75 398.32 460.10 402.97 460.50 408.00 C460.90 413.03 461.15 416.67 461.60 425.00 C462.05 433.33 462.47 446.83 463.20 458.00 C463.93 469.17 465.20 484.45 466.00 492.00 C466.80 499.55 466.58 501.42 468.00 503.30 C469.42 505.18 473.42 503.30 474.50 503.30" fill="none" stroke="#1f53b3" stroke-width="1.8" stroke-linejoin="round" clip-path="url(#c4)"/>
<line x1="331.0" y1="364.5" x2="475.0" y2="364.5" stroke="#8c8c8c" stroke-width="1" stroke-opacity="0.5"/>
<rect x="481.6" y="367.3" width="63.30" height="18.20" rx="1.2" fill="#fff" stroke="#e0e0e0" stroke-width="0.6"/>
<line x1="483.8" y1="369.9" x2="492.5" y2="369.9" stroke="#72bcd6" stroke-width="0.9"/>
<text transform="matrix(0.03851 0.00000 0.00000 0.04247 495.60 371.55)" font-family='"DejaVu Sans", sans-serif' font-size="100" fill="#262626" stroke="#262626" stroke-width="1.48" stroke-linejoin="round">StageII</text>
<line x1="483.8" y1="375.7" x2="492.5" y2="375.7" stroke="#f5b184" stroke-width="0.9"/>
<text transform="matrix(0.03926 0.00000 0.00000 0.04247 495.60 377.35)" font-family='"DejaVu Sans", sans-serif' font-size="100" fill="#262626" stroke="#262626" stroke-width="1.47" stroke-linejoin="round">StageIII</text>
<line x1="483.8" y1="381.8" x2="492.5" y2="381.8" stroke="#1f53b3" stroke-width="1.6"/>
<text transform="matrix(0.04033 0.00000 0.00000 0.04247 495.60 383.45)" font-family='"DejaVu Sans", sans-serif' font-size="100" fill="#262626" stroke="#262626" stroke-width="1.45" stroke-linejoin="round">all classes 0.96 at 0.651</text>
</svg>
</body></html>
